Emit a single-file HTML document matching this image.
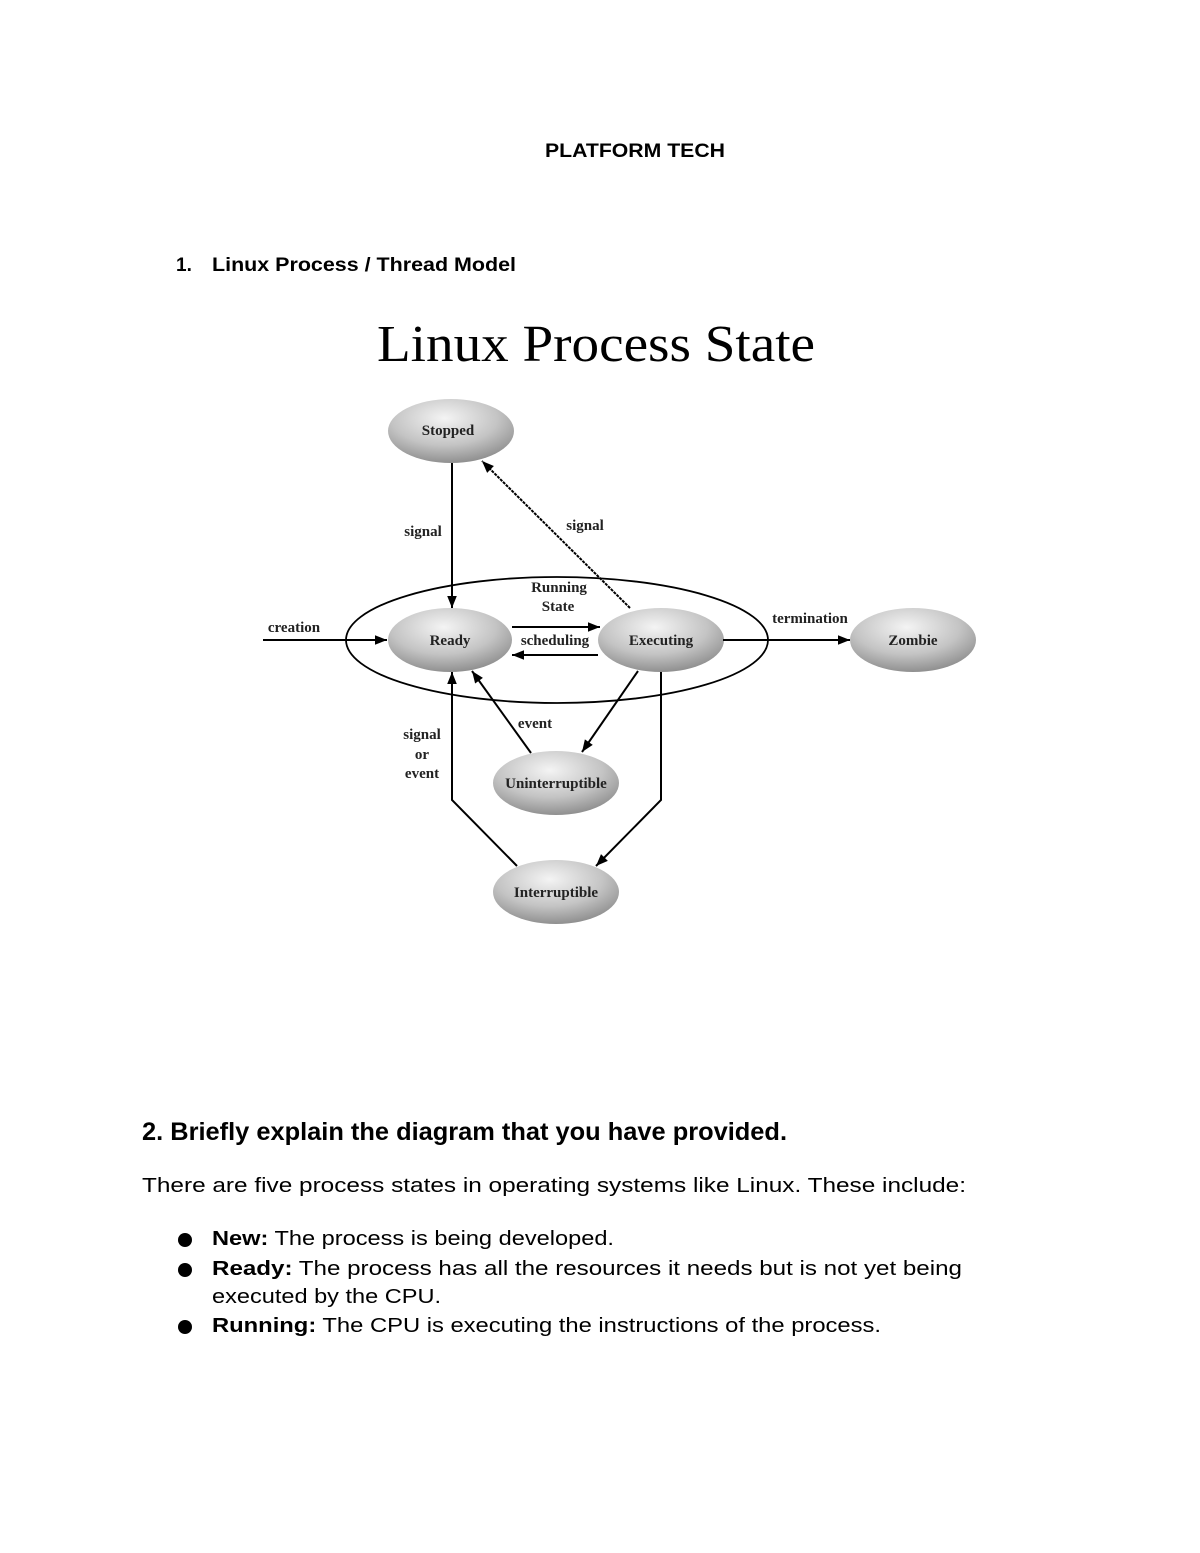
<!DOCTYPE html>
<html><head><meta charset="utf-8"><style>html,body{margin:0;padding:0;background:#fff}svg{display:block}</style></head><body>
<svg width="1200" height="1553" viewBox="0 0 1200 1553" xmlns="http://www.w3.org/2000/svg">
<defs>
<radialGradient id="g" cx="0.45" cy="0.3" r="0.7">
<stop offset="0" stop-color="#f4f4f4"/><stop offset="0.6" stop-color="#c4c4c4"/><stop offset="1" stop-color="#909090"/>
</radialGradient>
<marker id="a" viewBox="0 0 10 10" refX="10" refY="5" markerWidth="16" markerHeight="12" markerUnits="userSpaceOnUse" orient="auto"><path d="M0,1 L10,5 L0,9 Z" fill="#000"/></marker>
</defs>
<g font-family="Liberation Sans, sans-serif" fill="#000">
<text x="545" y="157" font-size="19" font-weight="bold" textLength="180" lengthAdjust="spacingAndGlyphs">PLATFORM TECH</text>
<text x="176" y="271" font-size="19" font-weight="bold">1.</text>
<text x="212" y="271" font-size="19" font-weight="bold" textLength="304" lengthAdjust="spacingAndGlyphs">Linux Process / Thread Model</text>
<text x="142" y="1140" font-size="25" font-weight="bold" textLength="645" lengthAdjust="spacingAndGlyphs">2. Briefly explain the diagram that you have provided.</text>
<text x="142" y="1192" font-size="20" textLength="824" lengthAdjust="spacingAndGlyphs">There are five process states in operating systems like Linux. These include:</text>
<circle cx="185" cy="1240" r="7"/><circle cx="185" cy="1270" r="7"/><circle cx="185" cy="1327" r="7"/>
<text x="212" y="1245" font-size="20" textLength="402" lengthAdjust="spacingAndGlyphs"><tspan font-weight="bold">New:</tspan> The process is being developed.</text>
<text x="212" y="1275" font-size="20" textLength="750" lengthAdjust="spacingAndGlyphs"><tspan font-weight="bold">Ready:</tspan> The process has all the resources it needs but is not yet being</text>
<text x="212" y="1303" font-size="20" textLength="229" lengthAdjust="spacingAndGlyphs">executed by the CPU.</text>
<text x="212" y="1332" font-size="20" textLength="669" lengthAdjust="spacingAndGlyphs"><tspan font-weight="bold">Running:</tspan> The CPU is executing the instructions of the process.</text>
</g>
<g font-family="Liberation Serif, serif">
<text x="377" y="361" font-size="52" textLength="438" lengthAdjust="spacingAndGlyphs">Linux Process State</text>
</g>
<g stroke="#000" stroke-width="2" fill="none">
<ellipse cx="557" cy="640" rx="211" ry="63" stroke-width="1.8"/>
</g>
<g fill="url(#g)">
<ellipse cx="451" cy="431" rx="63" ry="32"/>
<ellipse cx="450" cy="640" rx="62" ry="32"/>
<ellipse cx="661" cy="640" rx="63" ry="32"/>
<ellipse cx="913" cy="640" rx="63" ry="32"/>
<ellipse cx="556" cy="783" rx="63" ry="32"/>
<ellipse cx="556" cy="892" rx="63" ry="32"/>
</g>
<g stroke="#000" stroke-width="2" fill="none" marker-end="url(#a)">
<line x1="452" y1="463" x2="452" y2="608"/>
<line x1="630" y1="608" x2="482" y2="461" stroke-dasharray="3,1"/>
<line x1="512" y1="627" x2="600" y2="627"/>
<line x1="598" y1="655" x2="512" y2="655"/>
<line x1="263" y1="640" x2="387" y2="640"/>
<line x1="723" y1="640" x2="850" y2="640"/>
<line x1="638" y1="671" x2="582" y2="752"/>
<line x1="531" y1="753" x2="472" y2="671"/>
<polyline points="661,672 661,800 596,866"/>
<polyline points="517,866 452,800 452,672"/>
</g>
<g font-family="Liberation Serif, serif" font-weight="bold" font-size="15" fill="#222" text-anchor="middle">
<text x="448" y="435">Stopped</text>
<text x="450" y="645">Ready</text>
<text x="661" y="645">Executing</text>
<text x="913" y="645">Zombie</text>
<text x="556" y="788">Uninterruptible</text>
<text x="556" y="897">Interruptible</text>
</g>
<g font-family="Liberation Serif, serif" font-size="15" font-weight="bold" fill="#222" text-anchor="middle">
<text x="423" y="536">signal</text>
<text x="585" y="530">signal</text>
<text x="559" y="592">Running</text>
<text x="558" y="611">State</text>
<text x="555" y="645">scheduling</text>
<text x="294" y="632">creation</text>
<text x="810" y="623">termination</text>
<text x="535" y="728">event</text>
<text x="422" y="739">signal</text>
<text x="422" y="759">or</text>
<text x="422" y="778">event</text>
</g>
</svg>
</body></html>
